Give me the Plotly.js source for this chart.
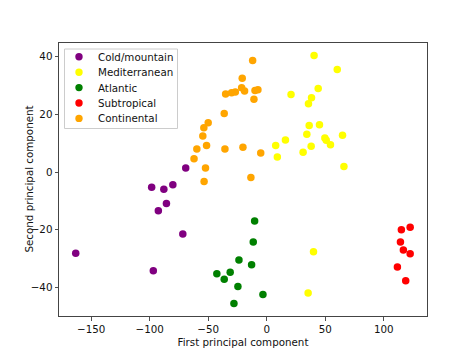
<!DOCTYPE html>
<html>
<head>
<meta charset="utf-8">
<script src="https://cdn.plot.ly/plotly-3.0.1.min.js"></script>
<style>html,body{margin:0;padding:0;background:#fff;}#chart{width:474px;height:355px;}</style>
</head>
<body>
<div id="chart"></div>
<script>
const seriesNames = ["Cold/mountain", "Mediterranean", "Atlantic", "Subtropical", "Continental"];
const seriesColors = ["purple", "yellow", "green", "red", "orange"];

const coldX = [-69.2, -98.3, -87.9, -80.2, -85.7, -92.6, -71.7, -163.2, -96.9];
const coldY = [1.4, -5.3, -6.0, -4.4, -10.9, -13.4, -21.5, -28.2, -34.3];

const medX = [40.5, 60.3, 44.0, 20.8, 38.3, 35.7, 36.3, 45.1, 34.3, 64.8, 49.7, 50.9, 54.5, 38.0, 16.0, 7.7, 9.1, 31.1, 66.0, 40.0, 35.4];
const medY = [40.5, 35.6, 29.0, 26.9, 25.8, 23.7, 16.2, 16.4, 13.1, 12.8, 11.8, 11.0, 9.5, 9.0, 11.1, 9.2, 5.2, 6.9, 1.9, -27.7, -42.0];

const atlX = [-42.6, -36.3, -31.2, -28.0, -24.6, -23.7, -12.9, -11.5, -10.3, -3.2];
const atlY = [-35.3, -37.2, -34.8, -45.6, -39.7, -30.5, -32.2, -24.3, -17.0, -42.5];

const subX = [115.1, 122.6, 114.3, 116.8, 122.6, 111.7, 118.8];
const subY = [-20.0, -19.2, -24.3, -27.1, -28.4, -33.0, -37.7];

const contX = [-12.0, -20.9, -35.1, -30.0, -26.8, -21.4, -18.9, -10.0, -7.5, -10.9, -36.3, -50.0, -53.7, -54.6, -51.4, -59.7, -35.7, -20.3, -5.1, -62.1, -52.3, -53.5, -13.5];
const contY = [38.7, 32.6, 27.1, 27.5, 27.8, 29.3, 28.1, 28.3, 28.6, 25.3, 20.3, 17.1, 15.4, 12.5, 9.2, 8.0, 8.0, 8.6, 6.6, 4.6, 1.4, -3.3, -1.9];

const xs = [coldX, medX, atlX, subX, contX];
const ys = [coldY, medY, atlY, subY, contY];

const xTicks = [-150, -100, -50, 0, 50, 100];
const yTicks = [-40, -20, 0, 20, 40];

const traces = seriesNames.map((name, i) => ({
  type: 'scatter',
  mode: 'markers',
  name: name,
  x: xs[i],
  y: ys[i],
  marker: {color: seriesColors[i], size: 7.5, line: {width: 0}}
}));

const W = 474, H = 355;
const M = {l: 59, r: 47, t: 43, b: 39};
const PW = W - M.l - M.r, PH = H - M.t - M.b;
const px = v => (v - M.l) / PW;          // page px -> paper x
const py = v => (H - M.b - v) / PH;      // page px -> paper y

const font = {family: 'DejaVu Sans, sans-serif', size: 10.3, color: '#111'};

// Matplotlib-style legend box built from shapes and annotations
const LEG = {left: 64.5, top: 49, right: 177.5, bottom: 128.5, markerX: 79, textX: 95.7, firstRow: 56.8, rowGap: 15.4, r: 3.7};
const shapes = [{
  type: 'rect', xref: 'paper', yref: 'paper',
  x0: px(LEG.left), x1: px(LEG.right), y0: py(LEG.bottom), y1: py(LEG.top),
  fillcolor: 'rgba(255,255,255,0.8)', line: {color: '#cccccc', width: 1}, layer: 'above'
}];
const annotations = [];
seriesNames.forEach((name, i) => {
  const rowY = LEG.firstRow + i * LEG.rowGap;
  shapes.push({
    type: 'circle', xref: 'paper', yref: 'paper',
    xsizemode: 'pixel', ysizemode: 'pixel',
    xanchor: px(LEG.markerX), yanchor: py(rowY),
    x0: -LEG.r, x1: LEG.r, y0: -LEG.r, y1: LEG.r,
    fillcolor: seriesColors[i], line: {width: 0}, layer: 'above'
  });
  annotations.push({
    xref: 'paper', yref: 'paper', x: px(LEG.textX), y: py(rowY),
    xanchor: 'left', yanchor: 'middle', showarrow: false,
    text: name, font: font
  });
});
annotations.push({
  xref: 'paper', yref: 'paper', x: px(28), y: 0.5,
  xanchor: 'center', yanchor: 'middle', showarrow: false, textangle: -90,
  text: 'Second principal component', font: font
});

const layout = {
  width: W,
  height: H,
  margin: {l: M.l, r: M.r, t: M.t, b: M.b, pad: 0},
  paper_bgcolor: '#fff',
  plot_bgcolor: '#fff',
  font: font,
  showlegend: false,
  shapes: shapes,
  annotations: annotations,
  xaxis: {
    range: [-177.5, 137.0],
    tickvals: xTicks,
    ticktext: xTicks.map(v => v < 0 ? '\u2212' + Math.abs(v) : String(v)),
    ticks: 'outside', ticklen: 3.5, tickwidth: 0.8, tickcolor: '#222',
    showgrid: false, zeroline: false,
    showline: true, linecolor: '#444', linewidth: 1, mirror: true,
    tickfont: font,
    title: {text: 'First principal component', font: font, standoff: 4},
    automargin: false
  },
  yaxis: {
    range: [-49.97, 44.8],
    tickvals: yTicks,
    ticktext: yTicks.map(v => v < 0 ? '\u2212' + Math.abs(v) : String(v)),
    ticks: 'outside', ticklen: 3.5, tickwidth: 0.8, tickcolor: '#222',
    showgrid: false, zeroline: false,
    showline: true, linecolor: '#444', linewidth: 1, mirror: true,
    tickfont: font,
    automargin: false
  }
};

Plotly.newPlot('chart', traces, layout, {displayModeBar: false, staticPlot: true});
</script>
</body>
</html>
